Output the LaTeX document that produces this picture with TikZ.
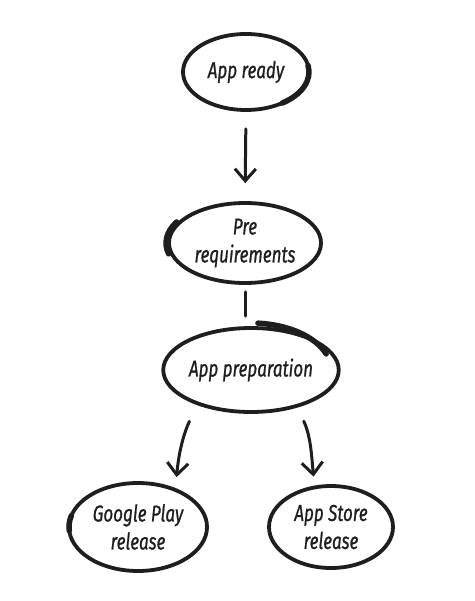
\documentclass[tikz,border=0pt]{standalone}
\usepackage{fontspec}
\newfontfamily\handfont[FakeStretch=0.74,FakeBold=0.8]{Fira Sans}
\usetikzlibrary{shapes.geometric,arrows.meta}
\definecolor{ink}{HTML}{1E1E1E}
\begin{document}
\begin{tikzpicture}[x=1pt,y=-1pt,
  ell/.style={ellipse, draw=ink, line width=3.8pt, inner sep=0pt, align=center,
    font=\handfont\itshape\fontsize{23}{28}\selectfont, text=ink},
  link/.style={draw=ink, line width=3pt, line cap=round},
  arr/.style={link, -{Straight Barb[length=12pt,width=21pt,line width=3pt]}},
  accent/.style={draw=ink, line width=5.5pt, line cap=round}]
\useasboundingbox[fill=white] (0,0) rectangle (474,601);

\node[ell, minimum width=126pt, minimum height=76pt] (ready) at (246,72) {App ready};
\node[ell, minimum width=152pt, minimum height=80pt] (pre) at (245,243) {Pre\\requirements};
\node[ell, minimum width=156pt, minimum height=84pt] (prep) at (251,370) {App preparation};
\node[ell, minimum width=138pt, minimum height=88pt] (gp) at (138,527) {Google Play\\release};
\node[ell, minimum width=124pt, minimum height=82pt] (as) at (331,527) {App Store\\release};

% hand-drawn accents (standard orientation inside this scope)
\begin{scope}[y=1pt]
\draw[accent] (ready.center) ++(10:63 and 38) arc[start angle=10, end angle=-55, x radius=63, y radius=38];
\draw[accent] (pre.center) ++(150:79 and 42) arc[start angle=150, end angle=195, x radius=79, y radius=42];
\draw[accent] (prep.center) ++(85:80 and 47) arc[start angle=85, end angle=20, x radius=80, y radius=47];
\draw[accent] (gp.center) ++(165:69 and 44) arc[start angle=165, end angle=185, x radius=69, y radius=44];
\end{scope}

% connectors
\draw[arr, shorten <=17pt, shorten >=18pt] (ready.south) -- (pre.north);
\draw[link, shorten <=7pt, shorten >=10pt] (pre.south) -- (pre.south |- prep.north);
\draw[arr, shorten <=18pt, shorten >=11pt] (prep.213) to[out=-115, in=85] (gp.46);
\draw[arr, shorten <=15pt, shorten >=9pt] (prep.321) to[out=-65, in=95] (as.112);
\end{tikzpicture}
\end{document}
